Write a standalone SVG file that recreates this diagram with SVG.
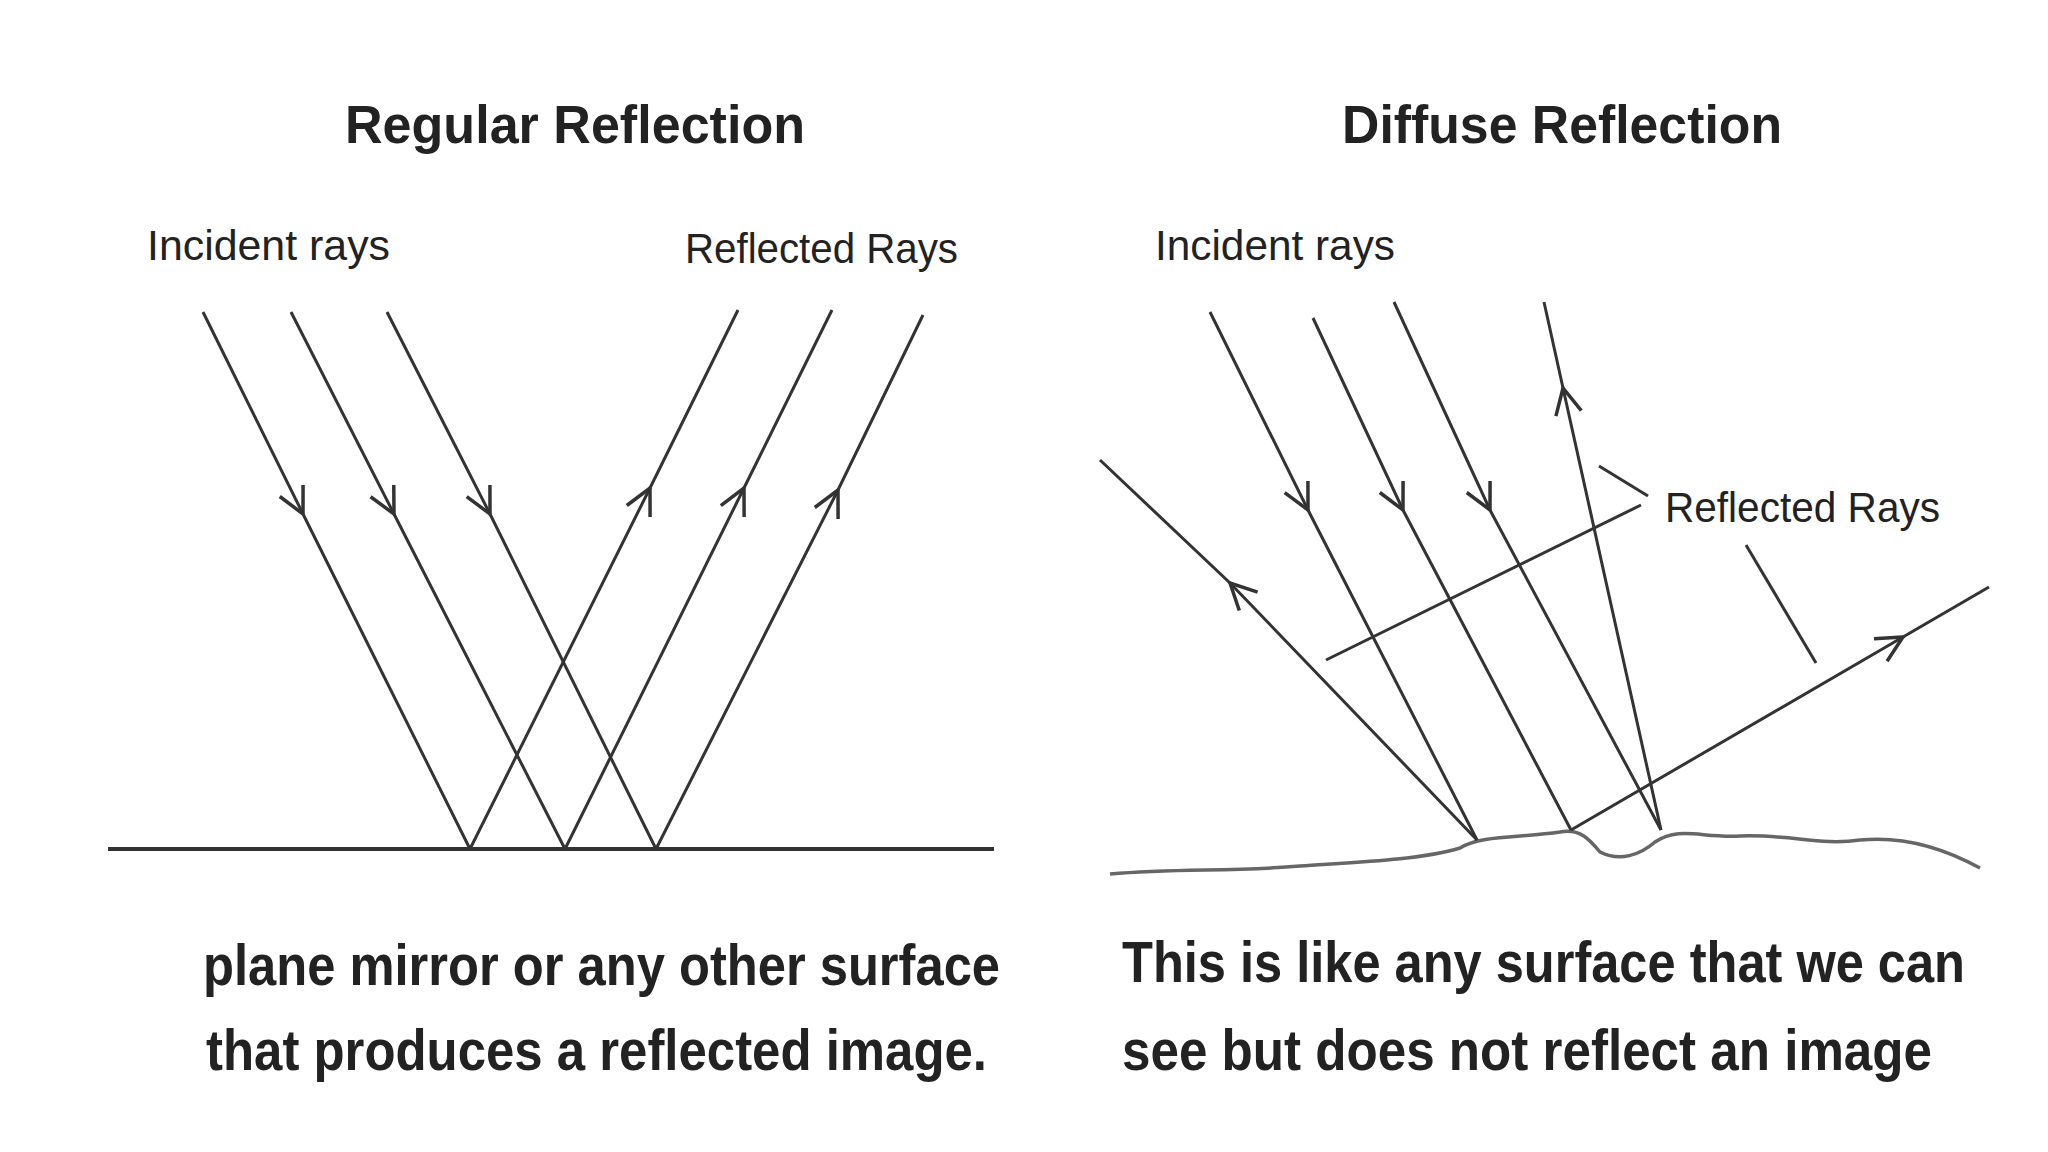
<svg xmlns="http://www.w3.org/2000/svg" width="2048" height="1152" viewBox="0 0 2048 1152">
<style>
text{font-family:"Liberation Sans",Arial,sans-serif;fill:#222}
.t{font-size:54px;font-weight:bold}
.l{font-size:42px}
.b{font-size:58px;font-weight:bold}
.ray{stroke:#333;stroke-width:3;fill:none}
</style>
<defs>
<marker id="ch" viewBox="-30 -16 34 32" markerWidth="34" markerHeight="32" markerUnits="userSpaceOnUse" orient="auto">
<path d="M-26,-13 L0,0 L-26,13" fill="none" stroke="#333" stroke-width="3.5"/>
</marker>
</defs>
<rect width="2048" height="1152" fill="#fff"/>
<g id="titles">
<text class="t" x="575" y="143" text-anchor="middle" textLength="460" lengthAdjust="spacingAndGlyphs">Regular Reflection</text>
<text class="t" x="1562" y="143" text-anchor="middle" textLength="440" lengthAdjust="spacingAndGlyphs">Diffuse Reflection</text>
</g>
<g id="labels">
<text class="l" x="147" y="260" textLength="243" lengthAdjust="spacingAndGlyphs">Incident rays</text>
<text class="l" x="685" y="263" textLength="273" lengthAdjust="spacingAndGlyphs">Reflected Rays</text>
<text class="l" x="1155" y="260" textLength="240" lengthAdjust="spacingAndGlyphs">Incident rays</text>
<text class="l" x="1665" y="522" textLength="275" lengthAdjust="spacingAndGlyphs">Reflected Rays</text>
</g>
<g id="captions">
<text class="b" x="203" y="985" textLength="797" lengthAdjust="spacingAndGlyphs">plane mirror or any other surface</text>
<text class="b" x="206" y="1070" textLength="781" lengthAdjust="spacingAndGlyphs">that produces a reflected image.</text>
<text class="b" x="1122" y="982" textLength="843" lengthAdjust="spacingAndGlyphs">This is like any surface that we can</text>
<text class="b" x="1122" y="1070" textLength="810" lengthAdjust="spacingAndGlyphs">see but does not reflect an image</text>
</g>
<g id="mirror"><line x1="108" y1="849" x2="994" y2="849" stroke="#333" stroke-width="4"/></g>
<g id="surface"><path d="M1110,874 C1180,868 1230,872 1300,866 C1360,862 1420,860 1460,848 C1480,835 1520,838 1560,832 C1580,828 1590,840 1600,852 C1620,862 1640,855 1655,842 C1680,826 1700,838 1740,836 C1790,834 1820,846 1860,840 C1900,836 1940,846 1980,868" fill="none" stroke="#666" stroke-width="3.5"/></g>
<g id="connectors">
<polyline class="ray" points="203,312 303,514 470,849" marker-mid="url(#ch)"/>
<polyline class="ray" points="291,312 394,514 565,849" marker-mid="url(#ch)"/>
<polyline class="ray" points="387,312 490,514 656,849" marker-mid="url(#ch)"/>
<polyline class="ray" points="470,849 650,488 738,310" marker-mid="url(#ch)"/>
<polyline class="ray" points="565,849 744,488 832,310" marker-mid="url(#ch)"/>
<polyline class="ray" points="656,849 838,490 923,315" marker-mid="url(#ch)"/>
<polyline class="ray" points="1210,312 1308,510 1477,840" marker-mid="url(#ch)"/>
<polyline class="ray" points="1313,318 1403,510 1571,830" marker-mid="url(#ch)"/>
<polyline class="ray" points="1394,302 1490,510 1661,830" marker-mid="url(#ch)"/>
<polyline class="ray" points="1477,840 1230,583 1100,460" marker-mid="url(#ch)"/>
<polyline class="ray" points="1661,830 1563,388 1544,302" marker-mid="url(#ch)"/>
<polyline class="ray" points="1571,830 1903,637 1989,587" marker-mid="url(#ch)"/>
<line class="ray" x1="1326" y1="660" x2="1641" y2="505"/>
<line class="ray" x1="1599" y1="466" x2="1648" y2="496"/>
<line class="ray" x1="1746" y1="545" x2="1816" y2="663"/>
</g>
</svg>
